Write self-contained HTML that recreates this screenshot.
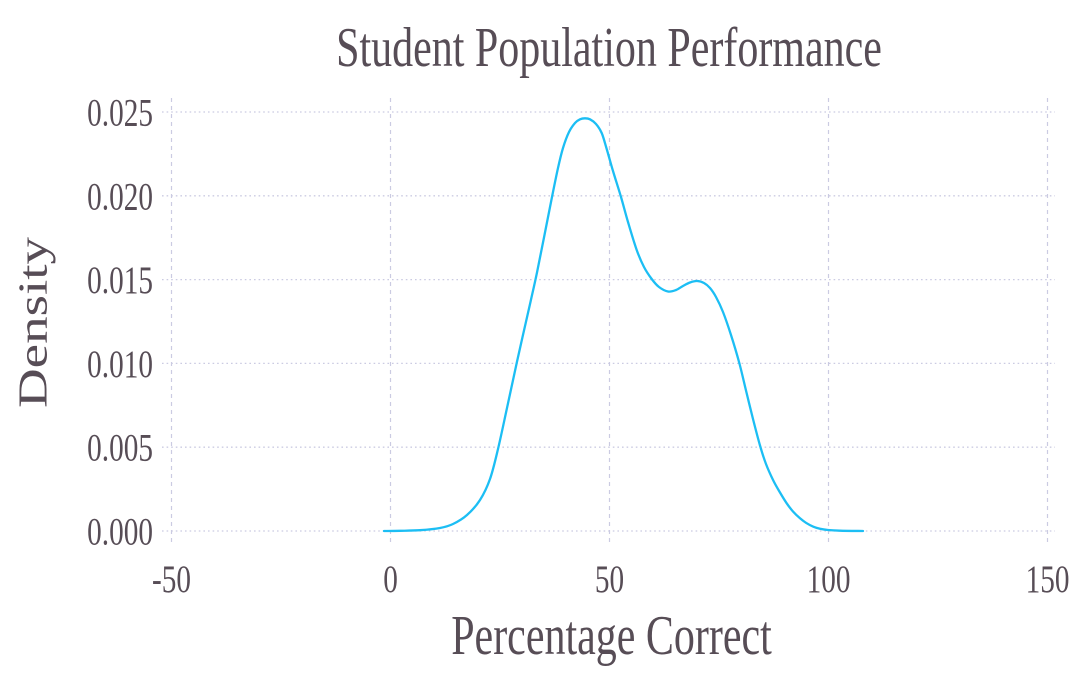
<!DOCTYPE html>
<html>
<head>
<meta charset="utf-8">
<style>
  html, body { margin: 0; padding: 0; background: #ffffff; }
  svg { display: block; }
  .t { font-family: "Liberation Serif", "Times New Roman", serif; fill: #574d56; }
</style>
</head>
<body>
<svg width="1091" height="687" viewBox="0 0 1091 687" xmlns="http://www.w3.org/2000/svg">
  <rect width="1091" height="687" fill="#ffffff"/>

  <!-- horizontal gridlines (dotted) -->
  <g stroke="#cbcbe2" stroke-width="1.3" stroke-dasharray="1.6,3" fill="none">
    <line x1="162" y1="112" x2="1055" y2="112"/>
    <line x1="162" y1="195.8" x2="1055" y2="195.8"/>
    <line x1="162" y1="279.6" x2="1055" y2="279.6"/>
    <line x1="162" y1="363.4" x2="1055" y2="363.4"/>
    <line x1="162" y1="447.2" x2="1055" y2="447.2"/>
    <line x1="162" y1="531" x2="1055" y2="531"/>
  </g>
  <!-- vertical gridlines (dashed) -->
  <g stroke="#cbcbe2" stroke-width="1.2" stroke-dasharray="4,4" fill="none">
    <line x1="171.5" y1="98" x2="171.5" y2="543"/>
    <line x1="390.5" y1="98" x2="390.5" y2="543"/>
    <line x1="609.5" y1="98" x2="609.5" y2="543"/>
    <line x1="828.5" y1="98" x2="828.5" y2="543"/>
    <line x1="1047.5" y1="98" x2="1047.5" y2="543"/>
  </g>

  <!-- density curve (fallback polyline, smoothed by script) -->
  <polyline id="curvePts" fill="none" stroke="#1cbef4" stroke-width="2.3" stroke-linejoin="round" stroke-linecap="round"
    points="384,531 400,530.8 420,530.2 440,528 453,524 467,515 480,500 490,479 498,449 507,408 516.7,363 524,330.5 530.7,301 537,272.5 544,237.5 552,197 558,168 563,148 569,132 575,123 580,119.3 585,118.3 590,119.3 596,124 601.7,133 606.7,149 613,171 621,197 628,222 636.7,250 644,267 651.7,279 659,287 668,291.5 676,290 683,286 690,282.5 697,281 704,283 710,288 716,297 723,312 731,335 739.3,363 746,390.5 753,419 760,445.5 766,464 773.3,480.5 780,492.5 786.7,503.3 793,511.5 800,518.3 806,522.8 813.3,526.7 820,528.8 828,530 840,530.7 863,531"/>
  <path id="curvePath" fill="none" stroke="#1cbef4" stroke-width="2.3" stroke-linejoin="round" stroke-linecap="round" d=""/>

  <!-- title -->
  <g transform="translate(609,66) scale(0.75,1)">
    <text class="t" x="0" y="0" font-size="56" text-anchor="middle">Student Population Performance</text>
  </g>

  <!-- y tick labels -->
  <g transform="translate(153,125.5) scale(0.75,1)"><text class="t" font-size="39" text-anchor="end">0.025</text></g>
  <g transform="translate(153,209.3) scale(0.75,1)"><text class="t" font-size="39" text-anchor="end">0.020</text></g>
  <g transform="translate(153,293.1) scale(0.75,1)"><text class="t" font-size="39" text-anchor="end">0.015</text></g>
  <g transform="translate(153,376.9) scale(0.75,1)"><text class="t" font-size="39" text-anchor="end">0.010</text></g>
  <g transform="translate(153,460.7) scale(0.75,1)"><text class="t" font-size="39" text-anchor="end">0.005</text></g>
  <g transform="translate(153,544.5) scale(0.75,1)"><text class="t" font-size="39" text-anchor="end">0.000</text></g>

  <!-- x tick labels -->
  <g transform="translate(171.5,592) scale(0.75,1)"><text class="t" font-size="39" text-anchor="middle">-50</text></g>
  <g transform="translate(390.5,592) scale(0.75,1)"><text class="t" font-size="39" text-anchor="middle">0</text></g>
  <g transform="translate(609.5,592) scale(0.75,1)"><text class="t" font-size="39" text-anchor="middle">50</text></g>
  <g transform="translate(828.5,592) scale(0.75,1)"><text class="t" font-size="39" text-anchor="middle">100</text></g>
  <g transform="translate(1047.5,592) scale(0.75,1)"><text class="t" font-size="39" text-anchor="middle">150</text></g>

  <!-- x axis title -->
  <g transform="translate(611.5,654) scale(0.75,1)">
    <text class="t" font-size="56" text-anchor="middle">Percentage Correct</text>
  </g>

  <!-- y axis title -->
  <g transform="translate(46.5,322.5) rotate(-90) scale(1,0.75)">
    <text class="t" font-size="55" text-anchor="middle">Density</text>
  </g>
</svg>
<script>
(function(){
  var pl = document.getElementById('curvePts');
  var raw = pl.getAttribute('points').trim().split(/\s+/).map(function(s){
    var a = s.split(','); return [parseFloat(a[0]), parseFloat(a[1])];
  });
  var n = raw.length;
  var d = 'M' + raw[0][0] + ',' + raw[0][1];
  for (var i = 0; i < n - 1; i++) {
    var p0 = raw[Math.max(i-1,0)], p1 = raw[i], p2 = raw[i+1], p3 = raw[Math.min(i+2,n-1)];
    var c1x = p1[0] + (p2[0]-p0[0])/6, c1y = p1[1] + (p2[1]-p0[1])/6;
    var c2x = p2[0] - (p3[0]-p1[0])/6, c2y = p2[1] - (p3[1]-p1[1])/6;
    d += ' C' + c1x.toFixed(2) + ',' + c1y.toFixed(2) + ' ' + c2x.toFixed(2) + ',' + c2y.toFixed(2) + ' ' + p2[0] + ',' + p2[1];
  }
  document.getElementById('curvePath').setAttribute('d', d);
  pl.setAttribute('display', 'none');
})();
</script>
</body>
</html>
